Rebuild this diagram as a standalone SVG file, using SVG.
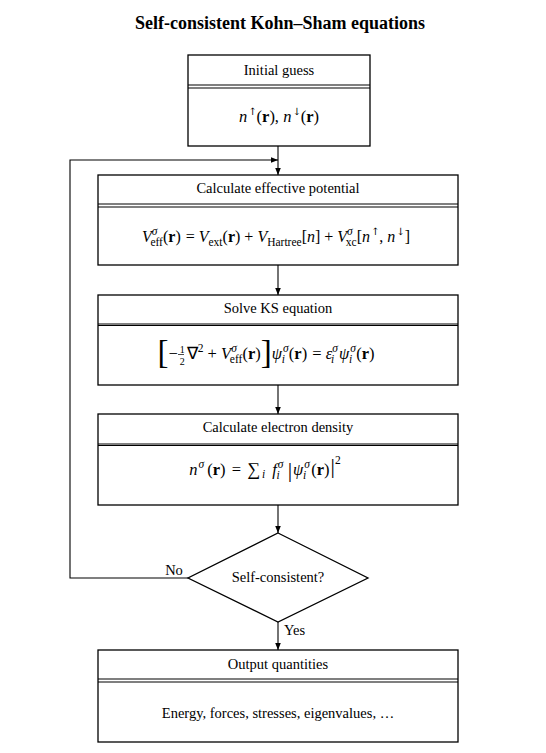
<svg xmlns="http://www.w3.org/2000/svg" width="546" height="753" viewBox="0 0 546 753">
<defs>
<style>
.box{fill:#fff;stroke:#000;stroke-width:1.3}
.ln{fill:none;stroke:#000;stroke-width:1.1}
.t{font-size:14.5px;fill:#000;text-anchor:middle}
.m{font-size:16.5px;fill:#000;text-anchor:middle}
.i{font-style:italic}
.b{font-weight:bold}
.s{font-size:11.5px}
.ar{font-family:"DejaVu Serif",serif;font-size:10px}
</style>
<marker id="ah" viewBox="0 0 10 10" refX="10" refY="5" markerWidth="7" markerHeight="7" orient="auto" markerUnits="userSpaceOnUse">
<path d="M0,1 L10,5 L0,9 Z" fill="#000"/>
</marker>
</defs>
<rect width="546" height="753" fill="#fff"/>
<g font-family="Liberation Serif, Times New Roman, serif">
<text x="280" y="29" font-size="18" font-weight="bold" text-anchor="middle">Self-consistent Kohn–Sham equations</text>

<g id="connectors">
<line class="ln" x1="278" y1="146" x2="278" y2="175" marker-end="url(#ah)"/>
<polyline class="ln" points="188,578 70,578 70,160 278,160" marker-end="url(#ah)"/>
<line class="ln" x1="278" y1="265" x2="278" y2="295" marker-end="url(#ah)"/>
<line class="ln" x1="278" y1="385" x2="278" y2="414" marker-end="url(#ah)"/>
<line class="ln" x1="278" y1="505" x2="278" y2="533" marker-end="url(#ah)"/>
<line class="ln" x1="278" y1="622" x2="278" y2="650" marker-end="url(#ah)"/>
<text x="174" y="575" class="t">No</text>
<text x="284" y="635" class="t" style="text-anchor:start">Yes</text>
</g>

<g id="initial">
<rect class="box" x="188" y="55" width="182" height="91"/>
<line class="ln" x1="188" y1="85" x2="370" y2="85"/>
<line class="ln" x1="188" y1="88" x2="370" y2="88"/>
<text x="279" y="75" class="t">Initial guess</text>
<text x="279" y="122" class="m" font-size="16"><tspan class="i">n</tspan><tspan class="ar" dx="1" dy="-7">↑</tspan><tspan dy="7">(</tspan><tspan class="b">r</tspan>), <tspan class="i">n</tspan><tspan class="ar" dx="1" dy="-7">↓</tspan><tspan dy="7">(</tspan><tspan class="b">r</tspan>)</text>
</g>

<g id="potential">
<rect class="box" x="98" y="175" width="360" height="90"/>
<line class="ln" x1="98" y1="204" x2="458" y2="204"/>
<line class="ln" x1="98" y1="207" x2="458" y2="207"/>
<text x="278" y="193" class="t">Calculate effective potential</text>
<text x="276" y="242" class="m" style="font-size:16px"><tspan class="i">V</tspan><tspan class="s i" dy="-7">σ</tspan><tspan class="s" dx="-7" dy="11">eff</tspan><tspan dy="-4">(</tspan><tspan class="b">r</tspan>)<tspan dx="1"> = </tspan><tspan class="i">V</tspan><tspan class="s" dy="4">ext</tspan><tspan dy="-4">(</tspan><tspan class="b">r</tspan>) + <tspan class="i">V</tspan><tspan class="s" dy="4">Hartree</tspan><tspan dy="-4">[</tspan><tspan class="i">n</tspan>] + <tspan class="i">V</tspan><tspan class="s i" dy="-7">σ</tspan><tspan class="s" dx="-7" dy="11">xc</tspan><tspan dy="-4">[</tspan><tspan class="i">n</tspan><tspan class="ar" dx="1" dy="-7">↑</tspan><tspan dy="7">, </tspan><tspan class="i">n</tspan><tspan class="ar" dx="1" dy="-7">↓</tspan><tspan dy="7">]</tspan></text>
</g>

<g id="solve">
<rect class="box" x="98" y="295" width="360" height="90"/>
<line class="ln" x1="98" y1="324" x2="458" y2="324"/>
<line class="ln" x1="98" y1="325.5" x2="458" y2="325.5"/>
<text x="278" y="313" class="t">Solve KS equation</text>
<text x="266" y="359" class="m"><tspan font-size="33" dy="4">[</tspan><tspan dy="-4">−</tspan><tspan font-size="10" dx="2" dy="-6">1</tspan><tspan font-size="10" dx="-5" dy="12">2</tspan><tspan dx="2" dy="-6">∇</tspan><tspan class="s" dy="-7">2</tspan><tspan dy="7"> + </tspan><tspan class="i">V</tspan><tspan class="s i" dy="-7">σ</tspan><tspan class="s" dx="-7" dy="11">eff</tspan><tspan dy="-4">(</tspan><tspan class="b">r</tspan>)<tspan font-size="33" dy="4">]</tspan><tspan class="i" dy="-4">ψ</tspan><tspan class="s i" dx="1" dy="-7">σ</tspan><tspan class="s i" dx="-7" dy="11">i</tspan><tspan dx="4" dy="-4">(</tspan><tspan class="b">r</tspan>)<tspan dx="1"> = </tspan><tspan class="i">ε</tspan><tspan class="s i" dy="-7">σ</tspan><tspan class="s i" dx="-7" dy="11">i</tspan><tspan class="i" dx="5" dy="-4">ψ</tspan><tspan class="s i" dx="1" dy="-7">σ</tspan><tspan class="s i" dx="-7" dy="11">i</tspan><tspan dx="4" dy="-4">(</tspan><tspan class="b">r</tspan>)</text>
<line x1="178" y1="354.5" x2="184" y2="354.5" stroke="#000" stroke-width="0.7"/>
</g>

<g id="density">
<rect class="box" x="98" y="414" width="360" height="91"/>
<line class="ln" x1="98" y1="444" x2="458" y2="444"/>
<line class="ln" x1="98" y1="445.5" x2="458" y2="445.5"/>
<text x="278" y="432" class="t">Calculate electron density</text>
<text x="265" y="475" class="m"><tspan class="i">n</tspan><tspan class="s i" dx="1" dy="-7">σ</tspan><tspan dx="3" dy="7">(</tspan><tspan class="b">r</tspan>)<tspan dx="2"> = </tspan><tspan font-size="18" dx="2">∑</tspan><tspan class="s i" dx="2" dy="3">i</tspan><tspan class="i" dx="7" dy="-3">f</tspan><tspan class="s i" dx="1" dy="-7">σ</tspan><tspan class="s i" dx="-7" dy="11">i</tspan><tspan font-size="22" dx="8" dy="-2">|</tspan><tspan class="i" dx="1" dy="-2">ψ</tspan><tspan class="s i" dx="1" dy="-7">σ</tspan><tspan class="s i" dx="-7" dy="11">i</tspan><tspan dx="5" dy="-4">(</tspan><tspan class="b">r</tspan>)<tspan font-size="22" dx="1" dy="-2">|</tspan><tspan class="s" dy="-9">2</tspan></text>
</g>

<g id="decision">
<polygon class="box" points="278,533 368,578 278,622 188,578"/>
<text x="278" y="582" class="t">Self-consistent?</text>
</g>

<g id="output">
<rect class="box" x="98" y="650" width="360" height="92"/>
<line class="ln" x1="98" y1="679" x2="458" y2="679"/>
<line class="ln" x1="98" y1="682" x2="458" y2="682"/>
<text x="278" y="669" class="t">Output quantities</text>
<text x="278" y="718" class="t">Energy, forces, stresses, eigenvalues, …</text>
</g>
</g>
</svg>
